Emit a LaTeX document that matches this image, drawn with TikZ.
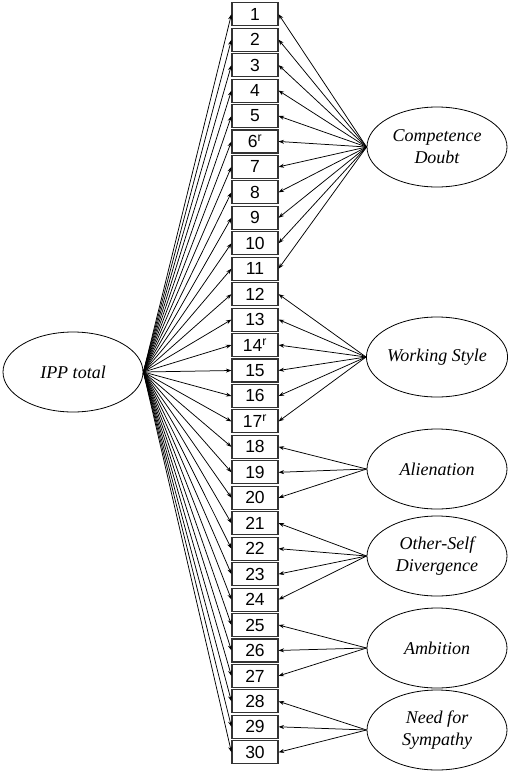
\documentclass[tikz,border=0pt]{standalone}
\usepackage{fontspec}
\setmainfont{Liberation Serif}
\setsansfont{Liberation Sans}
\usetikzlibrary{arrows.meta,shapes.geometric}
\begin{document}
\begin{tikzpicture}[x=1pt,y=-1pt,
  item/.style={draw=black!80,line width=1.1pt,minimum width=46pt,minimum height=23pt,inner sep=0pt,font=\sffamily\fontsize{17.5}{17.5}\selectfont},
  factor/.style={draw,ellipse,line width=0.8pt,minimum width=140pt,minimum height=80pt,inner sep=0pt,align=center,font=\itshape\fontsize{18}{22}\selectfont},
  arr/.style={-{Stealth[length=5.5pt,width=4pt]},line width=0.75pt}]
\useasboundingbox (0,0) rectangle (510,774);
\foreach \i/\t in {1/1,2/2,3/3,4/4,5/5,6/6\textsuperscript{r},7/7,8/8,9/9,10/10,11/11,12/12,13/13,14/14\textsuperscript{r},15/15,16/16,17/17\textsuperscript{r},18/18,19/19,20/20,21/21,22/22,23/23,24/24,25/25,26/26,27/27,28/28,29/29,30/30}
  \node[item] (b\i) at (255,{14.2+(\i-1)*25.45}) {\t};
\node[factor] (ipp) at (73,372) {IPP total};
\node[factor] (cd) at (437,147) {Competence\\Doubt};
\node[factor] (ws) at (437,357) {Working Style};
\node[factor] (al) at (437,469) {Alienation};
\node[factor] (os) at (437,556) {Other-Self\\Divergence};
\node[factor] (am) at (437,648) {Ambition};
\node[factor] (ns) at (437,730) {Need for\\Sympathy};
\foreach \i in {1,...,30} \draw[arr] (ipp.east) -- (b\i.west);
\foreach \i in {1,...,11} \draw[arr] (cd.west) -- (b\i.east);
\foreach \i in {12,...,17} \draw[arr] (ws.west) -- (b\i.east);
\foreach \i in {18,...,20} \draw[arr] (al.west) -- (b\i.east);
\foreach \i in {21,...,24} \draw[arr] (os.west) -- (b\i.east);
\foreach \i in {25,...,27} \draw[arr] (am.west) -- (b\i.east);
\foreach \i in {28,...,30} \draw[arr] (ns.west) -- (b\i.east);
\end{tikzpicture}
\end{document}
